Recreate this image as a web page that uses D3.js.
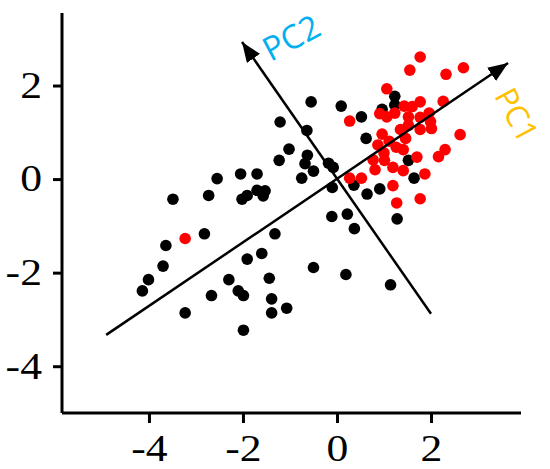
<!DOCTYPE html>
<html><head><meta charset="utf-8">
<script src="https://cdn.jsdelivr.net/npm/d3@7/dist/d3.min.js"></script>
<style>body{margin:0;background:#fff;} svg{display:block;}</style>
</head><body>
<svg id="chart" width="550" height="469"></svg>
<script>
const xTicks = [-4, -2, 0, 2];
const yTicks = [-4, -2, 0, 2];

const blackX = [-3.49,-2.73,-2.55,-2.05,-1.70,-2.02,-1.91,-1.70,-1.53,-1.57,-2.82,-3.64,-3.70,-4.01,-4.14,-3.23,-2.67,-2.30,-2.10,-1.99,-1.91,-1.60,-1.44,-1.39,-1.39,-1.07,-1.99,-1.32,-1.23,-1.21,-1.02,-0.64,-0.63,-0.68,-0.50,-0.55,-0.18,-0.08,-0.75,-0.10,0.09,0.52,0.62,0.36,0.64,0.91,1.52,1.64,1.23,1.23,0.96,-0.11,0.22,0.37,1.28,-0.50,0.19,1.14];
const blackY = [-0.43,-0.35,0.01,0.11,0.11,-0.43,-0.35,-0.24,-0.25,-0.36,-1.17,-1.42,-1.86,-2.15,-2.39,-2.86,-2.49,-2.15,-2.39,-2.49,-1.71,-1.59,-2.12,-2.56,-2.86,-2.76,-3.23,-1.17,0.40,1.22,0.64,1.04,0.51,0.33,0.17,1.65,0.34,0.25,0.02,-0.18,1.56,1.33,0.87,-0.13,-0.32,-0.21,0.40,0.02,1.77,1.58,1.49,-0.80,-0.75,-1.06,-0.85,-1.89,-2.04,-2.26];

const redX = [-3.23,0.27,0.27,0.52,1.77,1.55,2.32,2.69,1.06,0.91,1.06,1.23,1.43,1.60,1.77,2.26,1.52,1.77,1.96,1.99,2.01,1.77,1.52,1.35,0.96,1.46,2.62,1.11,0.87,1.26,1.41,1.00,2.30,2.16,1.70,0.77,1.01,1.19,0.81,1.41,1.87,1.19,1.27,1.77];
const redY = [-1.27,1.24,0.02,0.02,2.61,2.33,2.24,2.38,1.93,1.40,1.33,1.41,1.56,1.55,1.65,1.66,1.33,1.32,1.41,1.23,1.08,1.06,1.15,1.06,0.96,0.87,0.95,0.81,0.73,0.68,0.63,0.56,0.63,0.48,0.47,0.41,0.40,0.25,0.20,0.18,0.11,-0.14,-0.51,-0.42];

// principal component arrows: [x1, y1, x2(tip), y2(tip)]
const pcNames = ["PC1", "PC2"];
const pcLines = [[-4.91, -3.33, 3.64, 2.48], [2.00, -2.88, -2.02, 2.93]];
const pcColors = ["#FFC000", "#00B0F0"];

const svg = d3.select("#chart");
const x = d3.scaleLinear().domain([-5.85, 3.915]).range([62, 521]);
const y = d3.scaleLinear().domain([-5.0, 3.55]).range([413, 13]);

const fmt = d => d < 0 ? "-" + Math.abs(d) : String(d);

const gx = svg.append("g").attr("transform", "translate(0,413)")
  .call(d3.axisBottom(x).tickValues(xTicks).tickSize(10).tickPadding(12).tickFormat(fmt));
const gy = svg.append("g").attr("transform", "translate(62,0)")
  .call(d3.axisLeft(y).tickValues(yTicks).tickSize(9).tickPadding(8).tickFormat(fmt));
[gx, gy].forEach(g => {
  g.select(".domain").attr("stroke", "#000").attr("stroke-width", 3);
  g.selectAll(".tick line").attr("stroke", "#000").attr("stroke-width", 3);
  g.selectAll(".tick text").attr("fill", "#000")
    .style("font-family", "'Liberation Serif', 'Times New Roman', serif").style("font-size", "37px")
    .attr("transform", "scale(1.18,1)");
});
gx.select(".domain").attr("d", "M62,0H521");
gy.select(".domain").attr("d", "M0,13V413");

// points
const blacks = blackX.map((v, i) => [v, blackY[i]]);
const reds = redX.map((v, i) => [v, redY[i]]);
svg.append("g").selectAll("circle").data(blacks).join("circle")
  .attr("cx", d => x(d[0])).attr("cy", d => y(d[1])).attr("r", 5.8).attr("fill", "#000");
svg.append("g").selectAll("circle").data(reds).join("circle")
  .attr("cx", d => x(d[0])).attr("cy", d => y(d[1])).attr("r", 5.8).attr("fill", "#ff0000");

// arrows
svg.append("defs").append("marker").attr("id", "ah")
  .attr("viewBox", "0 0 20 16").attr("refX", 20).attr("refY", 8)
  .attr("markerWidth", 20).attr("markerHeight", 16).attr("markerUnits", "userSpaceOnUse")
  .attr("orient", "auto")
  .append("path").attr("d", "M0,0L20,8L0,16Z").attr("fill", "#000");
svg.append("g").selectAll("line").data(pcLines).join("line")
  .attr("x1", d => x(d[0])).attr("y1", d => y(d[1]))
  .attr("x2", d => x(d[2])).attr("y2", d => y(d[3]))
  .attr("stroke", "#000").attr("stroke-width", 2.5).attr("marker-end", "url(#ah)");

// labels
const labelPos = [[3.82, 1.37, 62, 31], [-0.97, 3.02, -28, 33]];
svg.append("g").selectAll("text").data(pcNames).join("text")
  .attr("transform", (d, i) => `translate(${x(labelPos[i][0])},${y(labelPos[i][1])}) rotate(${labelPos[i][2]})`)
  .attr("text-anchor", "middle").attr("dy", "0.35em")
  .attr("fill", (d, i) => pcColors[i])
  .style("font-family", "'Open Sans', 'DejaVu Sans', sans-serif")
  .style("font-size", (d, i) => labelPos[i][3] + "px")
  .text(d => d);
</script>
</body></html>
